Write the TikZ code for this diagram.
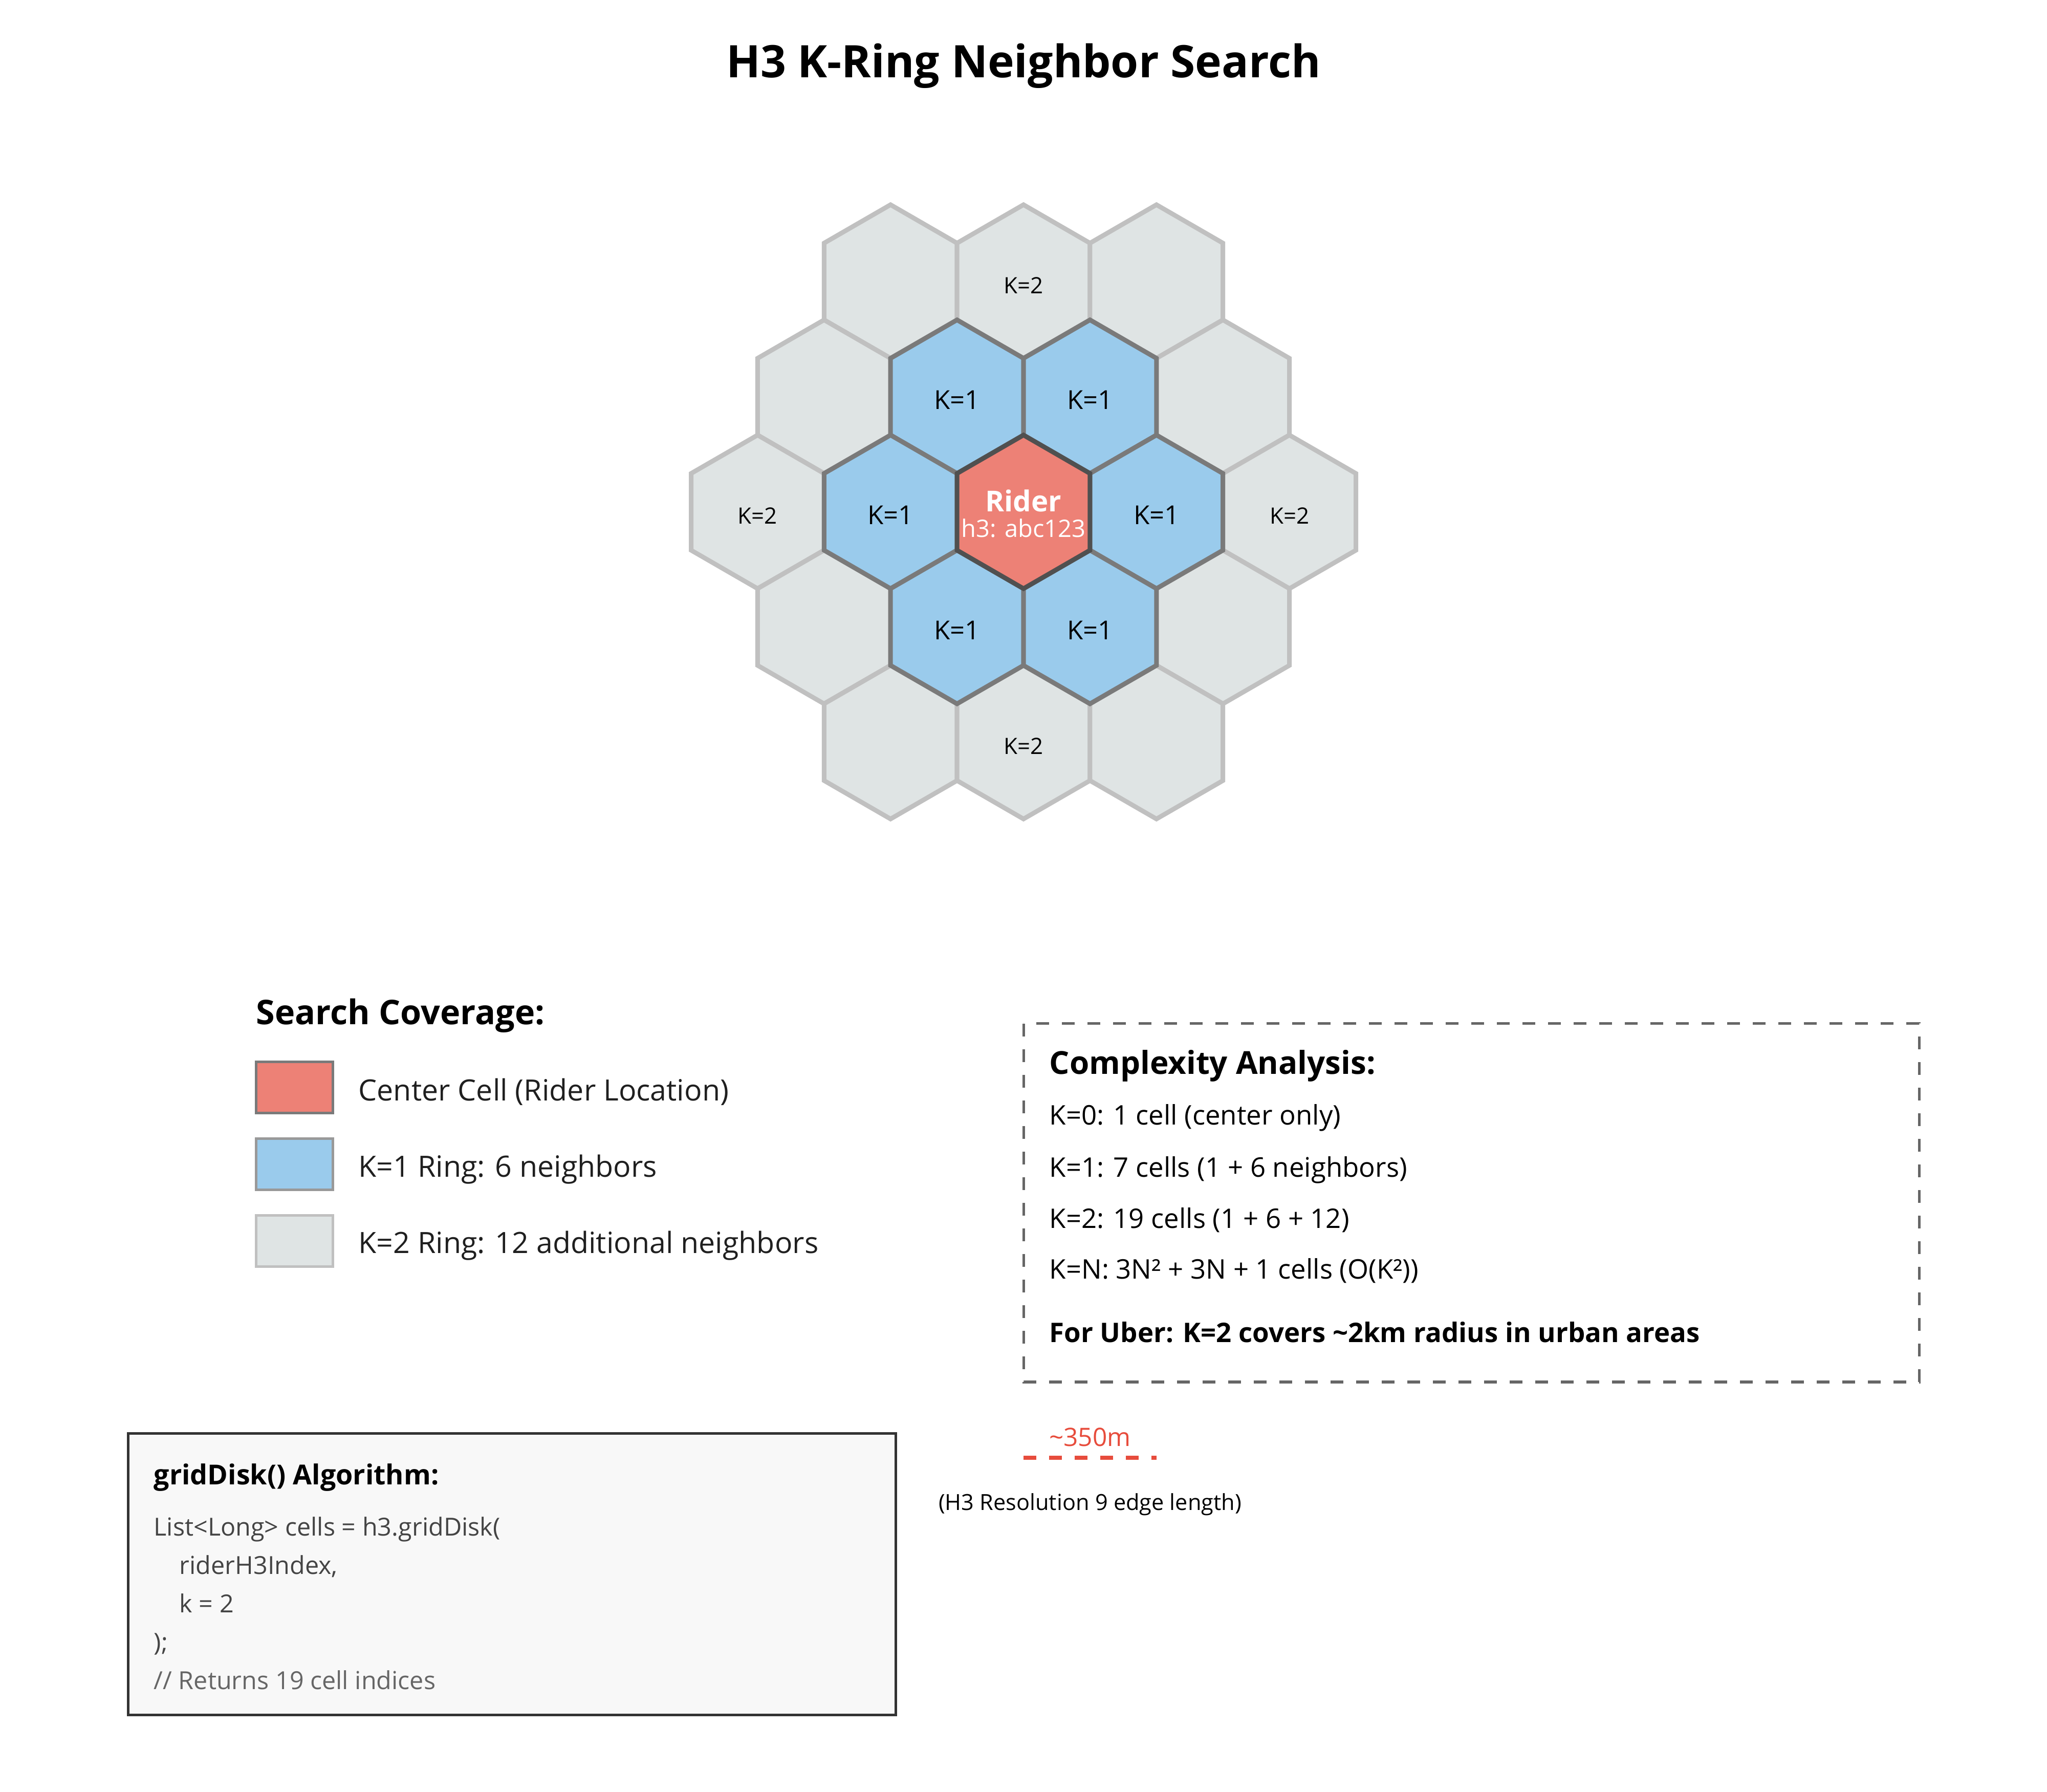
\documentclass[tikz,border=0pt]{standalone}
\usepackage{fontspec}
\setmainfont{Open Sans}
\usetikzlibrary{shapes.geometric}
\definecolor{hxRed}{HTML}{ED8176}
\definecolor{hxBlue}{HTML}{9ACBEC}
\definecolor{hxGrey}{HTML}{DFE4E4}
\definecolor{hxEdgeOut}{HTML}{C0C0C0}
\definecolor{hxEdgeIn}{HTML}{7A7A7A}
\definecolor{hxEdgeMid}{HTML}{505050}
\definecolor{scaleRed}{HTML}{E74C3C}
\definecolor{codeBg}{HTML}{F8F8F8}
\definecolor{codeInk}{HTML}{444444}
\definecolor{codeNote}{HTML}{666666}
\newcommand{\fsz}[1]{\fontsize{#1pt}{#1pt}\selectfont}
\tikzset{
  % cells: pointy-top hexagons of circumradius 1.5cm
  hexcell/.style  = {regular polygon, regular polygon sides=6, shape border rotate=30,
                     minimum size=3cm, inner sep=0pt, outer sep=0pt, line width=0.09cm},
  ringtwo/.style  = {hexcell, fill=hxGrey, draw=hxEdgeOut},
  ringone/.style  = {hexcell, fill=hxBlue, draw=hxEdgeIn},
  ringzero/.style = {hexcell, fill=hxRed, draw=hxEdgeMid},
  ktext/.style    = {inner sep=0pt, font=\fsz{#1}},
  swatch/.style   = {rectangle, minimum width=1.5cm, minimum height=1cm, inner sep=0pt,
                     outer sep=0pt, line width=0.05cm},
  txt/.style      = {anchor=base west, inner sep=0pt},
  head/.style     = {txt, font=\bfseries\fsz{18.9}},
  item/.style     = {txt, font=\fsz{16.3}, text=black!88},
  stat/.style     = {txt, font=\fsz{15}},
  code/.style     = {txt, font=\fsz{13.8}, text=codeInk},
}
\begin{document}
\begin{tikzpicture}[x=1cm, y=1cm]
  \useasboundingbox (0,0) rectangle (40,35);
  \node[anchor=base, inner sep=0pt, font=\bfseries\fsz{24.9}] (title) at (20,33.48)
    {H3 K-Ring Neighbor Search};
  % outer ring, K=2
  \foreach \nm/\cx/\cy/\lb in {oa/17.402/29.5/{}, ob/20/29.5/{K=2}, oc/22.598/29.5/{},
      od/16.103/27.25/{}, oe/23.897/27.25/{}, of/14.804/25/{K=2}, og/25.196/25/{K=2},
      oh/16.103/22.75/{}, oi/23.897/22.75/{}, oj/17.402/20.5/{}, ok/20/20.5/{K=2},
      ol/22.598/20.5/{}}
  {
    \node[ringtwo] (\nm) at (\cx,\cy) {};
    \node[ktext=12.5] (\nm-t) at ([yshift=-0.08cm]\nm.center) {\lb};
  }
  % first ring, K=1
  \foreach \nm/\cx/\cy in {ia/18.701/27.25, ib/21.299/27.25, ic/17.402/25,
      id/22.598/25, ie/18.701/22.75, if/21.299/22.75}
  {
    \node[ringone] (\nm) at (\cx,\cy) {};
    \node[ktext=14.5] (\nm-t) at ([yshift=-0.06cm]\nm.center) {K=1};
  }
  % rider cell
  \node[ringzero] (rider) at (20,25) {};
  \node[anchor=base, inner sep=0pt, text=white, font=\bfseries\fsz{16}] (riderName)
    at (20,25.0) {Rider};
  \node[anchor=base, inner sep=0pt, text=white, font=\fsz{13.4}] (riderIdx)
    at (20,24.5) {h3: abc123};

  % legend
  \node[head] (legHead) at (5.0,14.98) {Search Coverage:};
  \node[swatch, fill=hxRed, draw=hxEdgeIn] (swZero) at (5.75,13.75) {};
  \node[swatch, fill=hxBlue, draw=black!40] (swOne) at (5.75,12.25) {};
  \node[swatch, fill=hxGrey, draw=hxEdgeOut] (swTwo) at (5.75,10.75) {};
  \node[item] (legZero) at (7.0,13.49) {Center Cell (Rider Location)};
  \node[item] (legOne) at (7.0,12.00) {K=1 Ring: 6 neighbors};
  \node[item] (legTwo) at (7.0,10.51) {K=2 Ring: 12 additional neighbors};

  % complexity panel
  \draw[codeNote, line width=0.05cm, dash pattern=on 0.25cm off 0.25cm] (20,15) rectangle (37.5,8);
  \node[head, font=\bfseries\fsz{17.6}] (cxHead) at (20.5,14.01) {Complexity Analysis:};
  \node[stat] (cxZero) at (20.5,13.02) {K=0: 1 cell (center only)};
  \node[stat] (cxOne) at (20.5,12.00) {K=1: 7 cells (1 + 6 neighbors)};
  \node[stat] (cxTwo) at (20.5,11.00) {K=2: 19 cells (1 + 6 + 12)};
  \node[stat] (cxN) at (20.5,10.01) {K=N: 3N² + 3N + 1 cells (O(K²))};
  \node[stat, font=\bfseries\fsz{15}] (cxUber) at (20.5,8.77)
    {For Uber: K=2 covers \textasciitilde 2km radius in urban areas};

  % algorithm box
  \draw[fill=codeBg, draw=black!80, line width=0.05cm] (2.5,7) rectangle (17.5,1.5);
  \node[code, font=\bfseries\fsz{15.3}, text=black] (algHead) at (3.0,6.00) {gridDisk() Algorithm:};
  \node[code] (algA) at (3.0,5.00) {List<Long> cells = h3.gridDisk(};
  \node[code] (algB) at (3.5,4.25) {riderH3Index,};
  \node[code] (algC) at (3.5,3.50) {k = 2};
  \node[code] (algD) at (3.0,2.75) {);};
  \node[code, text=codeNote] (algE) at (3.0,2.00) {// Returns 19 cell indices};

  % scale bar
  \coordinate (sbL) at (20,6.52);
  \coordinate (sbR) at (22.6,6.52);
  \draw[scaleRed, line width=0.08cm, dash pattern=on 0.25cm off 0.25cm] (sbL) -- (sbR);
  \node[anchor=base, inner sep=0pt, font=\fsz{14.1}, text=scaleRed] (sbVal) at (21.3,6.75)
    {\textasciitilde 350m};
  \node[anchor=base, inner sep=0pt, font=\fsz{12.3}] (sbNote) at (21.3,5.50)
    {(H3 Resolution 9 edge length)};
\end{tikzpicture}
\end{document}
